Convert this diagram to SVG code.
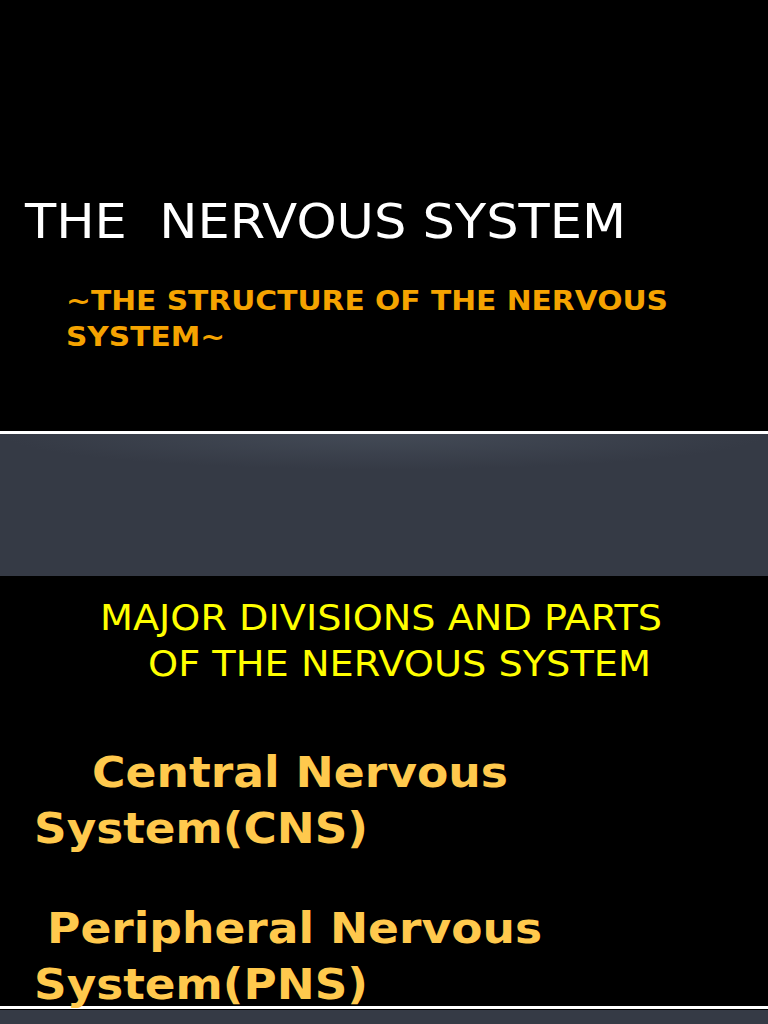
<svg xmlns="http://www.w3.org/2000/svg" width="768" height="1024" viewBox="0 0 768 1024">
<defs>
<radialGradient id="g" cx="0.5" cy="0" r="0.5" fx="0.5" fy="0" gradientTransform="scale(1,0.5)">
<stop offset="0" stop-color="#434a56"/><stop offset="1" stop-color="#353a45"/>
</radialGradient>
<style>
text{font-family:"DejaVu Sans",sans-serif;white-space:pre}
.t{fill:#fff;font-size:48px}
.s{fill:#f5a300;font-size:27px;font-weight:bold}
.y{fill:#ffff00;font-size:36px}
.b{fill:#ffc94d;font-size:43px;font-weight:bold}
</style>
</defs>
<rect width="768" height="1024" fill="#000"/>
<rect y="434" width="768" height="142" fill="#353a45"/>
<rect y="434" width="768" height="142" fill="url(#g)"/>
<rect y="431" width="768" height="3" fill="#fff"/>
<rect y="1010" width="768" height="14" fill="#353a45"/>
<rect y="1006" width="768" height="3" fill="#fff"/>
<text class="t" x="25" y="238" xml:space="preserve" textLength="601" lengthAdjust="spacingAndGlyphs">THE  NERVOUS SYSTEM</text>
<text class="s" x="66" y="310" textLength="602" lengthAdjust="spacingAndGlyphs">~THE STRUCTURE OF THE NERVOUS</text>
<text class="s" x="66" y="346" textLength="159" lengthAdjust="spacingAndGlyphs">SYSTEM~</text>
<text class="y" x="100" y="630" textLength="562" lengthAdjust="spacingAndGlyphs">MAJOR DIVISIONS AND PARTS</text>
<text class="y" x="148" y="676" textLength="503" lengthAdjust="spacingAndGlyphs">OF THE NERVOUS SYSTEM</text>
<text class="b" x="92" y="787" textLength="416" lengthAdjust="spacingAndGlyphs">Central Nervous</text>
<text class="b" x="34" y="843" textLength="334" lengthAdjust="spacingAndGlyphs">System(CNS)</text>
<text class="b" x="47" y="943" textLength="495" lengthAdjust="spacingAndGlyphs">Peripheral Nervous</text>
<text class="b" x="34" y="999" textLength="334" lengthAdjust="spacingAndGlyphs">System(PNS)</text>
</svg>
